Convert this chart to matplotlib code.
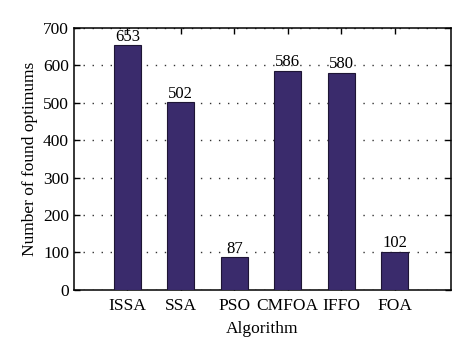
import matplotlib.pyplot as plt
import numpy as np

# data
algorithms = ['ISSA', 'SSA', 'PSO', 'CMFOA', 'IFFO', 'FOA']
found_optimums = [653, 502, 87, 586, 580, 102]

plt.rcParams['font.family'] = ['Liberation Serif', 'DejaVu Serif']

fig = plt.figure(figsize=(4.74, 3.57), dpi=100)
ax = fig.add_axes([0.156, 0.188, 0.795, 0.734])

x = np.arange(1, len(algorithms) + 1)
ax.bar(x, found_optimums, width=0.5, color='#3a2b6c', edgecolor='#1e1535', linewidth=0.8, zorder=3)

for xi, v in zip(x, found_optimums):
    ax.text(xi, v + 1, str(v), ha='center', va='bottom', fontsize=12, zorder=4)

ax.set_xlim(0, 7.05)
ax.set_ylim(0, 700)
ax.set_xticks(x)
ax.set_xticklabels(algorithms, fontsize=12.5)
ax.set_yticks(range(0, 701, 100))
ax.tick_params(axis='y', labelsize=12.5)
ax.tick_params(direction='in', top=True, right=True, length=4, width=1)
ax.tick_params(axis='x', pad=6)
for s in ax.spines.values():
    s.set_linewidth(1.1)
ax.yaxis.grid(True, linestyle=(0, (1, 5.5)), color='#333333', linewidth=1.0)
ax.set_axisbelow(True)

ax.set_xlabel('Algorithm', fontsize=12.5, labelpad=5)
ax.set_ylabel('Number of found optimums', fontsize=12.5)

fig.savefig('out.png', dpi=100)
